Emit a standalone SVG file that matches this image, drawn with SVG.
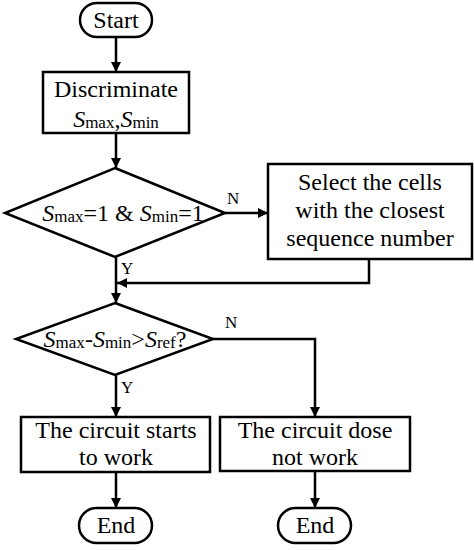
<svg xmlns="http://www.w3.org/2000/svg" width="474" height="550" viewBox="0 0 474 550" font-family="Liberation Serif, Times New Roman, serif">
<style>
.s{fill:#fff;stroke:#000;stroke-width:2.5}
.t{font-size:24px;fill:#000;text-anchor:middle}
.l{font-size:17px;fill:#000}
.c{fill:none;stroke:#000;stroke-width:2.5}
.i{font-style:italic}
.b{font-size:17px}
</style>
<defs>
<marker id="a" viewBox="0 0 10 10" refX="10" refY="5" markerWidth="4.4" markerHeight="4" orient="auto" markerUnits="strokeWidth">
<path d="M0,0 L10,5 L0,10 z" fill="#000"/>
</marker>
</defs>
<g id="connectors">
<line class="c" x1="116" y1="37" x2="116" y2="72" marker-end="url(#a)"/>
<line class="c" x1="116" y1="133" x2="116" y2="168" marker-end="url(#a)"/>
<line class="c" x1="225" y1="213" x2="268" y2="213" marker-end="url(#a)"/>
<polyline class="c" points="369,259 369,283 117,283" marker-end="url(#a)"/>
<line class="c" x1="116" y1="257" x2="116" y2="303" marker-end="url(#a)"/>
<polyline class="c" points="213,339 315,339 315,417" marker-end="url(#a)"/>
<line class="c" x1="116" y1="375" x2="116" y2="417" marker-end="url(#a)"/>
<line class="c" x1="116" y1="472" x2="116" y2="508" marker-end="url(#a)"/>
<line class="c" x1="315" y1="471" x2="315" y2="508" marker-end="url(#a)"/>
<text class="l" x="227" y="204" font-family="Liberation Serif">N</text>
<text class="l" x="121" y="274" font-family="Liberation Serif">Y</text>
<text class="l" x="225" y="328" font-family="Liberation Serif">N</text>
<text class="l" x="121" y="393" font-family="Liberation Serif">Y</text>
</g>
<g id="start">
<rect class="s" x="80" y="3" width="72" height="34" rx="17"/>
<text class="t" x="116" y="28" font-family="Liberation Serif">Start</text>
</g>
<g id="discriminate">
<rect class="s" x="43" y="72" width="146" height="61"/>
<text class="t" x="116" y="97" font-family="Liberation Serif">Discriminate</text>
<text class="t" x="116" y="127" font-family="Liberation Serif"><tspan class="i">S</tspan><tspan class="b" dy="1">max</tspan><tspan dy="-1">,</tspan><tspan class="i">S</tspan><tspan class="b" dy="1">min</tspan></text>
</g>
<g id="decision1">
<polygon class="s" points="115,168 225,213 115,257 5,213"/>
<text class="t" x="123" y="221" font-family="Liberation Serif"><tspan class="i">S</tspan><tspan class="b" dy="1">max</tspan><tspan dy="-1">=1 &amp; </tspan><tspan class="i">S</tspan><tspan class="b" dy="1">min</tspan><tspan dy="-1">=1</tspan></text>
</g>
<g id="select">
<rect class="s" x="268" y="164" width="204" height="95"/>
<text class="t" x="370" y="190" font-family="Liberation Serif">Select the cells</text>
<text class="t" x="370" y="218" font-family="Liberation Serif">with the closest</text>
<text class="t" x="370" y="246" font-family="Liberation Serif">sequence number</text>
</g>
<g id="decision2">
<polygon class="s" points="115,303 213,339 115,375 16,339"/>
<text class="t" x="115" y="347" font-family="Liberation Serif"><tspan class="i">S</tspan><tspan class="b" dy="1">max</tspan><tspan dy="-1">-</tspan><tspan class="i">S</tspan><tspan class="b" dy="1">min</tspan><tspan dy="-1">&gt;</tspan><tspan class="i">S</tspan><tspan class="b" dy="1">ref</tspan><tspan dy="-1">?</tspan></text>
</g>
<g id="starts">
<rect class="s" x="21" y="417" width="189" height="55"/>
<text class="t" x="116" y="438" font-family="Liberation Serif">The circuit starts</text>
<text class="t" x="116" y="465" font-family="Liberation Serif">to work</text>
</g>
<g id="notwork">
<rect class="s" x="220" y="417" width="190" height="54"/>
<text class="t" x="315" y="438" font-family="Liberation Serif">The circuit dose</text>
<text class="t" x="315" y="465" font-family="Liberation Serif">not work</text>
</g>
<g id="end1">
<rect class="s" x="79" y="508" width="73" height="35" rx="17.5"/>
<text class="t" x="116" y="533" font-family="Liberation Serif">End</text>
</g>
<g id="end2">
<rect class="s" x="278" y="508" width="73" height="35" rx="17.5"/>
<text class="t" x="315" y="533" font-family="Liberation Serif">End</text>
</g>
</svg>
